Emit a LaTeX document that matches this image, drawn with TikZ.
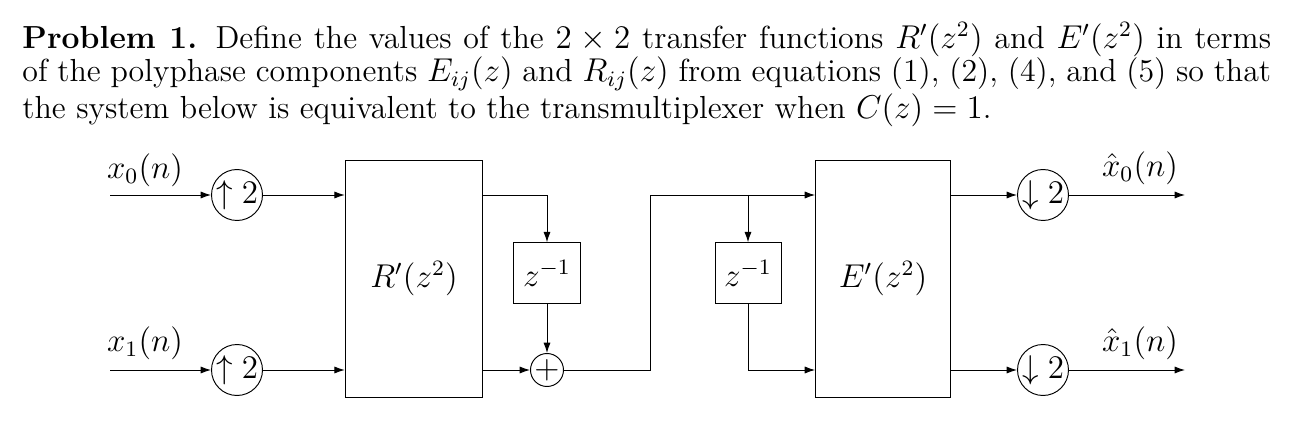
\documentclass[tikz,border=0pt]{standalone}
\usetikzlibrary{arrows.meta}
\begin{document}
\begin{tikzpicture}[x=0.3636pt,y=-0.3636pt,line width=0.35pt,
  sig/.style={-{Latex[length=3.8pt,width=2.6pt]}},
  lbl/.style={font=\fontsize{11.7}{13}\selectfont},
  circ/.style={draw,circle,minimum size=18pt,inner sep=0pt,lbl},
  add/.style={draw,circle,minimum size=11pt,inner sep=0pt}]
\useasboundingbox (0,0) rectangle (1292,424);
\node[anchor=north west,inner sep=0pt,text width=454pt,align=justify,font=\fontsize{11.6}{12.1}\selectfont] (txt) at (22,22)
 {\textbf{Problem 1.} Define the values of the $2\times2$ transfer functions $R'(z^2)$ and $E'(z^2)$ in terms of the polyphase components $E_{ij}(z)$ and $R_{ij}(z)$ from equations (1), (2), (4), and (5) so that the system below is equivalent to the transmultiplexer when $C(z)=1$.};
\coordinate (i0) at (110,195); \coordinate (i1) at (110,370);
\node[lbl] (x0) at (145,170) {$x_0(n)$};
\node[lbl] (x1) at (145,343) {$x_1(n)$};
\node[circ] (u0) at (237,195) {$\uparrow 2$};
\node[circ] (u1) at (237,370) {$\uparrow 2$};
\draw[sig] (i0) -- (u0); \draw[sig] (i1) -- (u1);
\node[draw,minimum width=50pt,minimum height=86.5pt,inner sep=0pt,lbl] (R) at (414,279) {$R'(z^2)$};
\node[draw,minimum width=49pt,minimum height=86.5pt,inner sep=0pt,lbl] (E) at (883,279) {$E'(z^2)$};
\draw[sig] (u0) -- (R.west |- u0); \draw[sig] (u1) -- (R.west |- u1);
\node[draw,minimum width=24.5pt,minimum height=22pt,inner sep=0pt,lbl] (d1) at (547,273) {$z^{-1}$};
\node[draw,minimum width=24pt,minimum height=22pt,inner sep=0pt,lbl] (d2) at (748,273) {$z^{-1}$};
\node[add,lbl] (a) at (547,370) {$+$};
\draw[sig] (R.east |- u0) -| (d1.north);
\draw[sig] (d1.south) -- (a.north);
\draw[sig] (R.east |- u1) -- (a.west);
\coordinate (m1) at (650,370); \coordinate (m2) at (650,195);
\coordinate (br) at (748,195);
\draw[sig] (a.east) -- (m1) -- (m2) -- (E.west |- m2);
\draw[sig] (br) -- (d2.north);
\draw[sig] (d2.south) |- (E.west |- m1);
\node[circ] (v0) at (1043,195) {$\downarrow 2$};
\node[circ] (v1) at (1043,370) {$\downarrow 2$};
\draw[sig] (E.east |- v0) -- (v0); \draw[sig] (E.east |- v1) -- (v1);
\coordinate (o0) at (1185,195); \coordinate (o1) at (1185,370);
\draw[sig] (v0) -- (o0); \draw[sig] (v1) -- (o1);
\node[lbl] (y0) at (1140,168) {$\hat x_0(n)$};
\node[lbl] (y1) at (1140,343) {$\hat x_1(n)$};
\end{tikzpicture}
\end{document}
